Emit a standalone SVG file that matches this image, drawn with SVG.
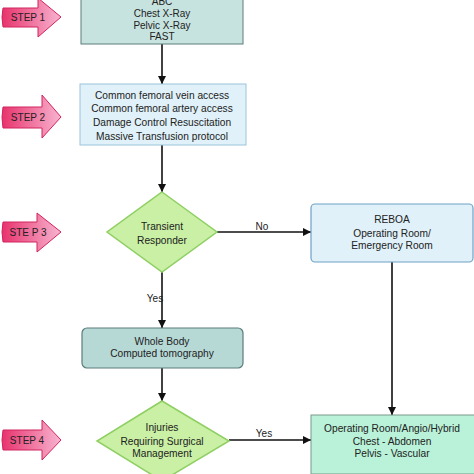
<svg xmlns="http://www.w3.org/2000/svg" width="474" height="474" viewBox="0 0 474 474">
<defs>
<linearGradient id="pink" x1="0" y1="0" x2="1" y2="0">
<stop offset="0" stop-color="#e8336d"/>
<stop offset="1" stop-color="#f8b4d0"/>
</linearGradient>
<marker id="ah" viewBox="0 0 10 10" refX="10" refY="5" markerWidth="8" markerHeight="8" markerUnits="userSpaceOnUse" orient="auto">
<path d="M0,0 L10,5 L0,10 z" fill="#111"/>
</marker>
<style>
.t{font-family:"Liberation Sans",Arial,sans-serif;font-size:10.2px;fill:#222;text-anchor:middle}
.b1{font-size:10px}
.s{font-family:"Liberation Sans",Arial,sans-serif;font-size:10px;fill:#222;text-anchor:middle}
.c{stroke:#111;stroke-width:1.6;fill:none}
.step{fill:url(#pink);stroke:#d2245f;stroke-width:1}
.dia{fill:#c9f0a4;stroke:#8fcf63;stroke-width:1.5}
</style>
</defs>
<rect width="474" height="474" fill="#fff"/>

<g id="step1"><path class="step" d="M3,8 L38,8 L38,-2 L61,17 L38,37 L38,27 L3,27 Q1,17 3,8 z"/><text class="s" x="28" y="21">STEP   1</text></g>
<g id="step2"><path class="step" d="M3,107 L42,107 L42,95 L61,117 L42,138 L42,128 L3,128 Q1,117 3,107 z"/><text class="s" x="28" y="121">STEP   2</text></g>
<g id="step3"><path class="step" d="M3,222 L37,222 L37,213 L61,232 L37,252 L37,242 L3,242 Q1,232 3,222 z"/><text class="s" x="28" y="236">STE  P 3</text></g>
<g id="step4"><path class="step" d="M3,430 L42,430 L42,420 L61,440 L42,460 L42,450 L3,450 Q1,440 3,430 z"/><text class="s" x="27" y="444">STEP   4</text></g>

<g id="connectors">
<line class="c" x1="162" y1="44" x2="162" y2="84" marker-end="url(#ah)"/>
<line class="c" x1="162" y1="145" x2="162" y2="192" marker-end="url(#ah)"/>
<line class="c" x1="217" y1="232" x2="311" y2="232" marker-end="url(#ah)"/>
<text class="s" x="262" y="230">No</text>
<line class="c" x1="162" y1="272" x2="162" y2="328" marker-end="url(#ah)"/>
<text class="s" x="155" y="302">Yes</text>
<line class="c" x1="162" y1="368" x2="162" y2="401" marker-end="url(#ah)"/>
<line class="c" x1="229" y1="440" x2="311" y2="440" marker-end="url(#ah)"/>
<text class="s" x="264" y="437">Yes</text>
<line class="c" x1="392" y1="262" x2="392" y2="415" marker-end="url(#ah)"/>
<line class="c" x1="392" y1="474" x2="392" y2="480"/>
</g>

<g id="box1"><rect x="81" y="-10" width="162" height="54" fill="#c6e3e0" stroke="#5f7d7b" stroke-width="1"/>
<text class="t b1" x="162" y="5">ABC</text><text class="t b1" x="162" y="17">Chest X-Ray</text><text class="t b1" x="162" y="29">Pelvic X-Ray</text><text class="t b1" x="162" y="40">FAST</text></g>

<g id="box2"><rect x="80" y="84" width="166" height="61" fill="#e0f1f9" stroke="#9cc4dc" stroke-width="1"/>
<text class="t" x="162" y="99">Common femoral vein access</text><text class="t" x="162" y="112">Common femoral artery access</text><text class="t" x="162" y="126">Damage Control Resuscitation</text><text class="t" x="162" y="140">Massive Transfusion protocol</text></g>

<g id="dia1"><path class="dia" d="M162,192 L217,232 L162,272 L107,232 z"/>
<text class="t" x="162" y="230">Transient</text><text class="t" x="162" y="244">Responder</text></g>

<g id="reboa"><rect x="311" y="204" width="162" height="58" rx="4" fill="#e0f1f9" stroke="#6fa2c6" stroke-width="1.2"/>
<text class="t" x="392" y="223">REBOA</text><text class="t" x="392" y="237">Operating Room/</text><text class="t" x="392" y="249">Emergency Room</text></g>

<g id="ct"><rect x="82" y="328" width="161" height="40" rx="5" fill="#b6d9d6" stroke="#5a7c7a" stroke-width="1.2"/>
<text class="t" x="162" y="345">Whole Body</text><text class="t" x="162" y="357">Computed tomography</text></g>

<g id="dia2"><path class="dia" d="M162,401 L229,441 L162,481 L97,441 z"/>
<text class="t" x="162" y="431">Injuries</text><text class="t" x="162" y="445">Requiring Surgical</text><text class="t" x="162" y="457">Management</text></g>

<g id="or"><rect x="311" y="415" width="170" height="59" fill="#b9f2d8" stroke="#7a9a8c" stroke-width="1"/>
<text class="t" x="392" y="432">Operating Room/Angio/Hybrid</text><text class="t" x="392" y="445">Chest - Abdomen</text><text class="t" x="392" y="457">Pelvis - Vascular</text></g>
</svg>
